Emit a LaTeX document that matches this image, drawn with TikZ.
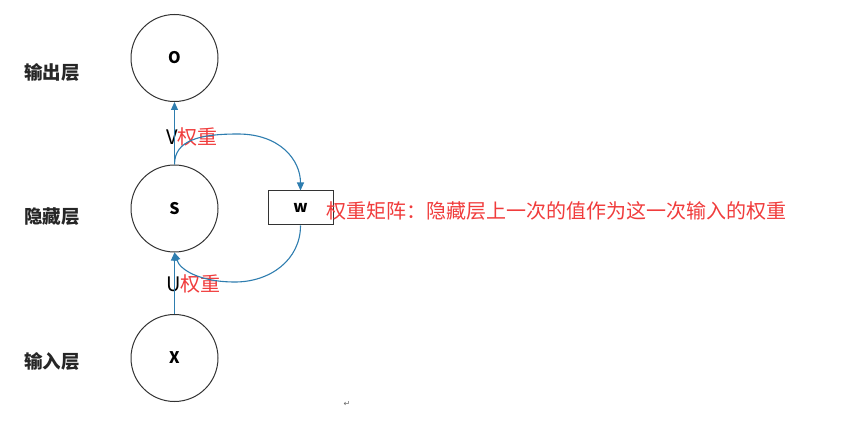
\documentclass[tikz,border=0pt]{standalone}
\usepackage{fontspec}
\setmainfont{Noto Sans CJK SC}
\newfontfamily\djv{DejaVu Sans}
\usetikzlibrary{arrows.meta}
\definecolor{lb}{HTML}{2E7DAF}
\definecolor{rd}{HTML}{F03C3C}
\begin{document}
\begin{tikzpicture}[x=1pt,y=-1pt,
  neuron/.style={circle,draw=black!80,line width=1pt,minimum size=87pt,inner sep=0pt,font=\fontsize{16}{18}\selectfont\bfseries},
  lay/.style={font=\fontsize{18.5}{20}\selectfont\bfseries,text=black!85},
  red/.style={text=rd,font=\fontsize{20}{22}\selectfont},
  conn/.style={draw=lb,line width=1.1pt,-{Triangle[length=8pt,width=7pt]}}]
\useasboundingbox (0,0) rectangle (846,422);
\node[neuron] (o) at (174.5,58) {O};
\node[neuron] (s) at (174.5,208.5) {S};
\node[neuron] (x) at (174.5,358) {X};
\node[draw=black!80,line width=1pt,minimum width=65pt,minimum height=34pt,inner sep=0pt,font=\fontsize{16}{18}\selectfont\bfseries] (w) at (300.5,208) {w};
\node[lay] (l1) at (52,72) {输出层};
\node[lay] (l2) at (52,217) {隐藏层};
\node[lay] (l3) at (52,361) {输入层};
\node[anchor=west,inner sep=0pt,font=\fontsize{20}{22}\selectfont] (vl) at (166,137) {V\textcolor{rd}{权重}};
\node[anchor=west,inner sep=0pt,font=\fontsize{20}{22}\selectfont] (ul) at (166,284) {U\textcolor{rd}{权重}};
\node[red,anchor=west,inner sep=0pt] (note) at (326,211) {权重矩阵：隐藏层上一次的值作为这一次输入的权重};
\node[font=\djv\fontsize{8}{9}\selectfont,text=black!60,inner sep=0pt] (ret) at (347,404) {↵};
\draw[conn] (s.north) -- (o.south);
\draw[conn] (x.north) -- (s.south);
\draw[conn] (s.north) .. controls (174.5,140) and (200,134) .. (238,134) .. controls (280,134) and (300.5,160) .. (w.north);
\draw[conn] (w.south) .. controls (300.5,260) and (270,282) .. (235,282) .. controls (200,282) and (180,270) .. (s.south);
\end{tikzpicture}
\end{document}
